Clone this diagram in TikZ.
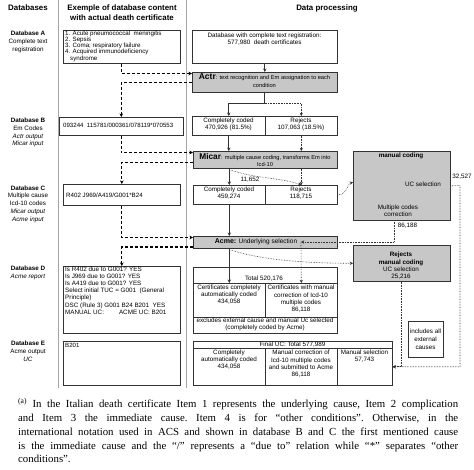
\documentclass[tikz,border=0pt]{standalone}
\usepackage{fontspec}
\setmainfont{Liberation Sans}
\newfontfamily\capfont{Liberation Serif}
\usetikzlibrary{arrows.meta,calc}
\newcommand\fsz{\fontsize{6.3}{7}\selectfont}
\begin{document}
\begin{tikzpicture}[x=1pt,y=-1pt,
 bx/.style={draw=black!80,line width=0.55pt,inner sep=0pt,anchor=north west},
 gbx/.style={bx,fill=black!22},
 tx/.style={inner sep=0pt,font=\fsz,align=center},
 txl/.style={inner sep=0pt,font=\fsz,align=left,anchor=north west},
 lab/.style={inner sep=0pt,font=\fontsize{6.3}{7.8}\selectfont,align=center},
 hd/.style={inner sep=0pt,font=\fontsize{7.9}{10}\selectfont\bfseries,align=center},
 csol/.style={draw=black!80,line width=1.1pt,-{Stealth[length=3.5pt,width=3.4pt]}},
 cline/.style={draw=black!80,line width=1.1pt},
 cdot/.style={draw=black!80,line width=0.6pt,densely dotted,-{Stealth[length=3.2pt,width=3.2pt]}},
 cdsh/.style={draw=black,line width=1.2pt,dash pattern=on 3pt off 2pt,-{Stealth[length=3.6pt,width=3.6pt]}},
 sepl/.style={draw=black!35,line width=0.5pt}
]
\useasboundingbox (0,0) rectangle (474,470);
% separators
\draw[sepl] (58,0) -- (58,388);
\draw[sepl] (186,0) -- (186,388);
% headers
\node[hd] (h1) at (28,8) {Databases};
\node[hd] (h2) at (122,13) {Exemple of database content\\with actual death certificate};
\node[hd] (h3) at (327,8) {Data processing};
% left labels
\node[lab] (dA) at (28,42) {\textbf{Database A}\\Complete text\\registration};
\node[lab] (dB) at (28,132.5) {\textbf{Database B}\\Em Codes\\\textit{Actr output}\\\textit{Micar input}};
\node[lab] (dC) at (28,204) {\textbf{Database C}\\Multiple cause\\Icd-10 codes\\\textit{Micar output}\\\textit{Acme input}};
\node[lab] (dD) at (28,273) {\textbf{Database D}\\\textit{Acme report}};
\node[lab] (dE) at (28,351.5) {\textbf{Database E}\\Acme output\\\textit{UC}};
% middle boxes
\node[bx,minimum width=117pt,minimum height=33pt] (A) at (63,30) {};
\node[bx,minimum width=124pt,minimum height=18pt] (B) at (59,117) {};
\node[bx,minimum width=117pt,minimum height=21pt] (C) at (63,184) {};
\node[bx,minimum width=117pt,minimum height=67pt] (D) at (63,266) {};
\node[bx,minimum width=117pt,minimum height=44pt] (E) at (63,341) {};
\node[txl,font=\fontsize{6.2}{6.1}\selectfont] (tA) at (65,31) {1. Acute pneumococcal\ \ meningitis\\2. Sepsis\\3. Coma; respiratory failure\\4. Acquired immunodeficiency\\\hspace*{5pt}syndrome};
\node[tx,anchor=west,font=\fontsize{6.1}{7}\selectfont] (tB) at (63,125.5) {093244\ \ 115781/000361/078119*070553};
\node[tx,anchor=west,font=\fontsize{6.2}{7}\selectfont] (tC) at (66,195) {R402 J969/A419/G001*B24};
\node[txl,font=\fontsize{6.3}{7.15}\selectfont] (tD) at (65,266.5) {Is R402 due to G001? YES\\Is J969 due to G001? YES\\Is A419 due to G001? YES\\Select initial TUC = G001\ \ (General\\Principle)\\DSC (Rule 3) G001 B24 B201\ \ YES\\MANUAL UC:\hspace{15pt}ACME UC: B201};
\node[tx,anchor=west,font=\fontsize{6.1}{7}\selectfont] (tE) at (65,345.5) {B201};
% right column boxes
\node[bx,minimum width=145pt,minimum height=33pt] (DB) at (192,30) {};
\node[gbx,minimum width=145pt,minimum height=20pt] (Actr) at (192,72) {};
\node[bx,minimum width=73pt,minimum height=19pt] (CC1) at (192,116) {};
\node[bx,minimum width=72pt,minimum height=19pt] (R1) at (265,116) {};
\node[gbx,minimum width=144pt,minimum height=17pt] (Micar) at (193,151) {};
\node[bx,minimum width=72pt,minimum height=19pt] (CC2) at (193,185) {};
\node[bx,minimum width=72pt,minimum height=19pt] (R2) at (265,185) {};
\node[gbx,minimum width=97pt,minimum height=69pt] (MC) at (353,151) {};
\node[gbx,minimum width=144pt,minimum height=12pt] (Acme) at (193,236) {};
\node[gbx,minimum width=97pt,minimum height=36pt] (RMC) at (353,245) {};
\node[bx,minimum width=144pt,minimum height=66pt] (Tot) at (193,267) {};
\node[bx,minimum width=72pt,minimum height=34pt] (TotL) at (193,283) {};
\node[bx,minimum width=72pt,minimum height=34pt] (TotR) at (265,283) {};
\node[bx,minimum width=35pt,minimum height=36pt] (Inc) at (408,321) {};
\node[bx,minimum width=199pt,minimum height=44pt] (Fin) at (193,341) {};
\node[bx,minimum width=199pt,minimum height=7pt] (FH) at (193,341) {};
\node[bx,minimum width=72pt,minimum height=37pt] (F1) at (193,348) {};
\node[bx,minimum width=72pt,minimum height=37pt] (F2) at (265,348) {};
\node[bx,minimum width=55pt,minimum height=37pt] (F3) at (337,348) {};
% right column texts
\node[tx] (tDB) at (264.5,39.5) {Database with complete text registration:\\577,980\ \ death certificates};
\node[tx,font=\fontsize{5.7}{8}\selectfont] (tActr) at (264.5,80.5) {{\fontsize{8.5}{8}\selectfont\bfseries Actr}: text recognition and Em assignation to each\\condition};
\node[tx] (tCC1) at (228.5,124.5) {Completely coded\\470,926 (81.5\%)};
\node[tx] (tR1) at (301,124.5) {Rejects\\107,063 (18.5\%)};
\node[tx,font=\fontsize{5.7}{7}\selectfont] (tMicar) at (265,160) {{\fontsize{8.3}{7}\selectfont\bfseries Micar}: multiple cause coding, transforms Em into\\Icd-10};
\node[tx,font=\fontsize{6.3}{6.5}\selectfont] (tCC2) at (229,193) {Completely coded\\459,274};
\node[tx,font=\fontsize{6.3}{6.5}\selectfont] (tR2) at (301,193) {Rejects\\118,715};
\node[tx] (t11) at (250,180) {11,652};
\node[tx] (tMC1) at (401,155.5) {\textbf{manual coding}};
\node[tx] (tMC2) at (423,184) {UC selection};
\node[tx] (tMC3) at (398,210.5) {Multiple codes\\correction};
\node[tx] (t32) at (462,177) {32,527};
\node[tx] (t86) at (407.5,226) {86,188};
\node[tx,font=\fontsize{6.5}{7}\selectfont] (tAcme) at (256,242) {{\fontsize{7}{7}\selectfont\bfseries Acme:} Underlying selection};
\node[tx,font=\fontsize{6.3}{7.3}\selectfont] (tRMC) at (401,266) {\textbf{Rejects}\\\textbf{manual coding}\\UC selection\\25,216};
\node[tx] (tTot) at (264,278.5) {Total 520,176};
\node[tx] (tTL) at (229,295) {Certificates completely\\automatically coded\\434,058};
\node[tx,font=\fontsize{6.3}{7.3}\selectfont] (tTR) at (301,299) {Certificates with manual\\correction of Icd-10\\multiple codes\\86,118};
\node[tx] (tTB) at (265,324.5) {excludes external cause and manual Uc selected\\(completely coded by Acme)};
\node[tx,font=\fontsize{6.3}{8}\selectfont] (tInc) at (425.5,339) {includes all\\external\\causes};
\node[tx] (tFH) at (292.5,344.6) {Final UC: Total 577,989};
\node[tx] (tF1) at (229,360) {Completely\\automatically coded\\434,058};
\node[tx,font=\fontsize{6.3}{7.3}\selectfont] (tF2) at (301,364) {Manual correction of\\Icd-10 multiple codes\\and submitted to Acme\\86,118};
\node[tx] (tF3) at (364.5,356.5) {Manual selection\\57,743};
% dashed connectors (middle column)
\draw[cdsh] (A.south) |- ([yshift=-1.5pt]Actr.north west);
\draw[cdsh] (Actr.west) -| (B.north);
\draw[cdsh] (B.south) |- ([yshift=-1.5pt]Micar.north west);
\draw[cdsh] ([yshift=-2.5pt]Micar.west) -| (C.north);
\draw[cdsh] (C.south) |- ([yshift=-1.5pt]Acme.north west);
\draw[cdsh] ([yshift=1.5pt]Acme.south west) -| (D.north);
% solid / dotted connectors (right column)
\draw[csol] (DB.south) -- (Actr.north);
\coordinate (sp) at ($(Actr.south)+(0,11)$);
\draw[cline] (Actr.south) -- (sp);
\draw[csol] (sp) -| (CC1.north);
\draw[cdot] (sp) -| (R1.north);
\draw[csol] (CC1.south) -- (CC1.south |- Micar.north);
\draw[cdot] (R1.south) -- (R1.south |- Micar.north);
\draw[csol] (CC2.north |- Micar.south) -- (CC2.north);
\draw[cdot] (R2.north |- Micar.south) -- (R2.north);
\draw[cdot] ($(CC2.north |- Micar.south)+(0,1)$) .. controls +(25,9) and +(-18,-7) .. (R2.north);
\draw[cdot] (R2.east) .. controls +(11,0) and +(-7,2) .. ([yshift=3.5pt]MC.west);
\coordinate (lp) at (460,185.5);
\draw[cdot] (MC.east) -- (lp) |- (F3.east);
\draw[cdot] (RMC.south) |- (F3.east);
\coordinate (mcb) at (394,220);
\coordinate (acin) at (301,242);
\draw[cdot] (mcb) |- (acin);
\draw[cdot] (acin) -- (TotR.north);
\draw[csol] (CC2.south) -- (CC2.south |- Acme.north);
\draw[csol] (TotL.north |- Acme.south) -- (TotL.north);
\draw[cdot] ($(TotL.north |- Acme.south)+(0,1)$) .. controls +(30,10) and +(-50,0) .. (RMC.west);
% caption
\node[inner sep=0pt,anchor=north west,text width=440pt,align=justify,font=\capfont\fontsize{10.8}{13.7}\selectfont\frenchspacing] (cap) at (18,398.5) {\textsuperscript{(a)} In the Italian death certificate Item 1 represents the underlying cause, Item 2 complication\linebreak and Item 3 the immediate cause. Item 4 is for “other conditions”. Otherwise, in the\linebreak international notation used in ACS and shown in database B and C the first mentioned cause\linebreak is the immediate cause and the “/” represents a “due to” relation while “*” separates “other\linebreak conditions”.};
\end{tikzpicture}
\end{document}
